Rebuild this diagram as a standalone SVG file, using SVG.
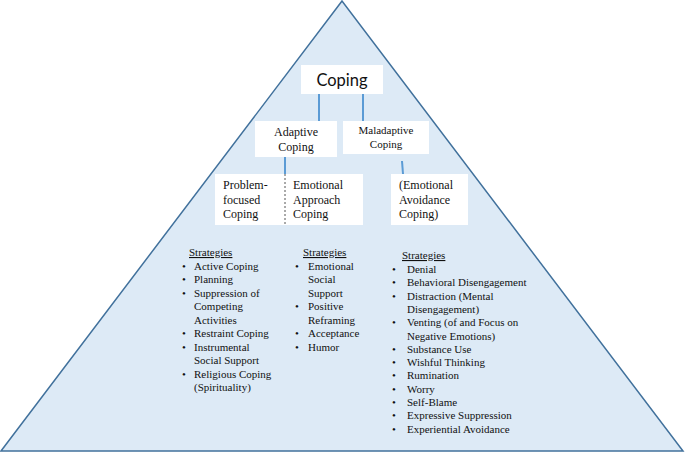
<svg xmlns="http://www.w3.org/2000/svg" width="685" height="453" viewBox="0 0 685 453">
<style>
.tri{fill:#DDEAF6;stroke:#41719C;stroke-width:1.5}
.box{fill:#FFFFFF;stroke:none}
.t{font-family:"Liberation Serif","Times New Roman",serif;font-size:12px;fill:#111}
.s{font-size:11px}
.h{font-family:Lato,"Open Sans",sans-serif;font-size:16.5px;fill:#111}
.c{stroke:#5B9BD5;stroke-width:2;fill:none}
.d{stroke:#555;stroke-width:1;stroke-dasharray:2,2;fill:none}
.u{text-decoration:underline}
</style>
<rect width="685" height="453" fill="#FFFFFF"/>
<polygon class="tri" points="342,1 1,451 683,451"/>
<g id="connectors">
<line class="c" x1="319" y1="94" x2="319" y2="121"/>
<line class="c" x1="363" y1="94" x2="363" y2="121"/>
<line class="c" x1="285" y1="157" x2="285" y2="174"/>
<line class="c" x1="402" y1="161" x2="403" y2="174"/>
</g>
<g id="coping">
<rect class="box" x="301" y="65" width="82" height="29"/>
<text class="h" x="342" y="86" text-anchor="middle">Coping</text>
</g>
<g id="adaptive">
<rect class="box" x="255" y="121" width="82" height="36"/>
<text class="t" x="296" y="136" text-anchor="middle">Adaptive</text>
<text class="t" x="296" y="151" text-anchor="middle">Coping</text>
</g>
<g id="maladaptive">
<rect class="box" x="343" y="121" width="86" height="33"/>
<text class="t s" x="386" y="134" text-anchor="middle">Maladaptive</text>
<text class="t s" x="386" y="148" text-anchor="middle">Coping</text>
</g>
<g id="approach">
<rect class="box" x="215" y="174" width="148" height="51"/>
<line class="d" x1="285" y1="174" x2="285" y2="225"/>
<text class="t" x="223" y="189">Problem-</text>
<text class="t" x="223" y="203.5">focused</text>
<text class="t" x="223" y="218">Coping</text>
<text class="t" x="293" y="189">Emotional</text>
<text class="t" x="293" y="203.5">Approach</text>
<text class="t" x="293" y="218">Coping</text>
</g>
<g id="avoidance">
<rect class="box" x="391" y="174" width="77" height="51"/>
<text class="t" x="399" y="189">(Emotional</text>
<text class="t" x="399" y="203.5">Avoidance</text>
<text class="t" x="399" y="218">Coping)</text>
</g>
<g id="strategies-problem">
<text class="t s u" x="189" y="256">Strategies</text>
<text class="t s" x="182" y="269.5">•</text><text class="t s" x="194" y="269.5">Active Coping</text>
<text class="t s" x="182" y="283">•</text><text class="t s" x="194" y="283">Planning</text>
<text class="t s" x="182" y="296.5">•</text><text class="t s" x="194" y="296.5">Suppression of</text>
<text class="t s" x="194" y="310">Competing</text>
<text class="t s" x="194" y="323.5">Activities</text>
<text class="t s" x="182" y="337">•</text><text class="t s" x="194" y="337">Restraint Coping</text>
<text class="t s" x="182" y="350.5">•</text><text class="t s" x="194" y="350.5">Instrumental</text>
<text class="t s" x="194" y="364">Social Support</text>
<text class="t s" x="182" y="377.5">•</text><text class="t s" x="194" y="377.5">Religious Coping</text>
<text class="t s" x="194" y="391">(Spirituality)</text>
</g>
<g id="strategies-approach">
<text class="t s u" x="303" y="256">Strategies</text>
<text class="t s" x="295" y="269.5">•</text><text class="t s" x="308" y="269.5">Emotional</text>
<text class="t s" x="308" y="283">Social</text>
<text class="t s" x="308" y="296.5">Support</text>
<text class="t s" x="295" y="310">•</text><text class="t s" x="308" y="310">Positive</text>
<text class="t s" x="308" y="323.5">Reframing</text>
<text class="t s" x="295" y="337">•</text><text class="t s" x="308" y="337">Acceptance</text>
<text class="t s" x="295" y="350.5">•</text><text class="t s" x="308" y="350.5">Humor</text>
</g>
<g id="strategies-avoidance">
<text class="t s u" x="402" y="259">Strategies</text>
<text class="t s" x="392" y="273">•</text><text class="t s" x="407" y="273">Denial</text>
<text class="t s" x="392" y="286.3">•</text><text class="t s" x="407" y="286.3">Behavioral Disengagement</text>
<text class="t s" x="392" y="299.6">•</text><text class="t s" x="407" y="299.6">Distraction (Mental</text>
<text class="t s" x="407" y="312.9">Disengagement)</text>
<text class="t s" x="392" y="326.2">•</text><text class="t s" x="407" y="326.2">Venting (of and Focus on</text>
<text class="t s" x="407" y="339.5">Negative Emotions)</text>
<text class="t s" x="392" y="352.8">•</text><text class="t s" x="407" y="352.8">Substance Use</text>
<text class="t s" x="392" y="366.1">•</text><text class="t s" x="407" y="366.1">Wishful Thinking</text>
<text class="t s" x="392" y="379.4">•</text><text class="t s" x="407" y="379.4">Rumination</text>
<text class="t s" x="392" y="392.7">•</text><text class="t s" x="407" y="392.7">Worry</text>
<text class="t s" x="392" y="406">•</text><text class="t s" x="407" y="406">Self-Blame</text>
<text class="t s" x="392" y="419.3">•</text><text class="t s" x="407" y="419.3">Expressive Suppression</text>
<text class="t s" x="392" y="432.6">•</text><text class="t s" x="407" y="432.6">Experiential Avoidance</text>
</g>
</svg>
